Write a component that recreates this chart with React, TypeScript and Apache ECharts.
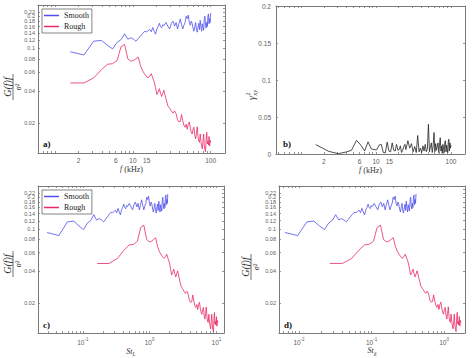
import React, { useEffect, useRef } from 'react';
import * as echarts from 'echarts';

// ---------- data ----------
const FREQ_KHZ = [
  1.56, 2.34, 3.13, 3.91, 4.69, 5.47, 6.25, 7.03, 7.81, 8.59, 9.38, 10.16, 10.94, 11.72, 12.5, 13.28, 14.06, 14.84, 15.63,
  16.41, 17.19, 17.97, 18.75, 19.53, 20.31, 21.09, 21.88, 22.66, 23.44, 24.22, 25.0,
  26.56, 28.13, 29.69, 31.25, 32.81, 34.38, 35.94, 37.5, 39.06, 40.63, 42.19, 43.75, 45.31, 46.88, 48.44, 50.0,
  51.56, 53.13, 54.69, 56.25, 57.81, 59.38, 60.94, 62.5, 64.06, 65.63, 67.19, 68.75, 70.31, 71.88, 73.44, 75.0,
  76.56, 78.13, 79.69, 81.25, 82.81, 84.38, 85.94, 87.5, 89.06, 90.63, 92.19, 93.75, 95.31, 96.88, 98.44, 100,
];

const SMOOTH = [
  0.093, 0.087, 0.117, 0.119, 0.107, 0.099, 0.114, 0.121, 0.137, 0.122, 0.126, 0.122, 0.117, 0.124, 0.131, 0.138, 0.144, 0.143, 0.146,
  0.151, 0.143, 0.157, 0.145, 0.136, 0.152, 0.16, 0.172, 0.16, 0.156, 0.167, 0.163,
  0.175, 0.162, 0.152, 0.172, 0.18, 0.162, 0.175, 0.152, 0.17, 0.189, 0.168, 0.152, 0.165, 0.175, 0.2, 0.19,
  0.205, 0.175, 0.165, 0.18, 0.172, 0.155, 0.145, 0.16, 0.175, 0.15, 0.142, 0.158, 0.172, 0.15, 0.183, 0.16,
  0.145, 0.17, 0.158, 0.148, 0.19, 0.2, 0.165, 0.155, 0.175, 0.16, 0.2, 0.21, 0.17, 0.19, 0.175, 0.215,
];

const ROUGH = [
  0.0475, 0.0475, 0.053, 0.063, 0.071, 0.072, 0.077, 0.104, 0.109, 0.08, 0.076, 0.077, 0.08, 0.083, 0.069, 0.062, 0.058, 0.055, 0.053,
  0.055, 0.058, 0.053, 0.049, 0.043, 0.037, 0.039, 0.042, 0.038, 0.0355, 0.038, 0.0405,
  0.034, 0.029, 0.0275, 0.026, 0.0248, 0.026, 0.0245, 0.0215, 0.0205, 0.0207, 0.024, 0.021, 0.019, 0.0183, 0.0195, 0.0175,
  0.0195, 0.0205, 0.018, 0.0164, 0.0158, 0.0175, 0.0183, 0.0155, 0.0142, 0.016, 0.0185, 0.015, 0.0135, 0.0132, 0.0158, 0.0135,
  0.0122, 0.0115, 0.0135, 0.0158, 0.0125, 0.0113, 0.0108, 0.0142, 0.0164, 0.0128, 0.0135, 0.0125, 0.015, 0.0122, 0.0138, 0.0132,
];

const COHERENCE = [
  0.0127, 0.0035, 0.0005, 0.0025, 0.005, 0.0185, 0.012, 0.004, 0.0165, 0.007, 0.006, 0.0055, 0.012, 0.013, 0.002, 0.0015, 0.016, 0.004, 0.003,
  0.015, 0.005, 0.004, 0.013, 0.005, 0.006, 0.011, 0.002, 0.005, 0.01, 0.013, 0.006,
  0.018, 0.008, 0.014, 0.003, 0.01, 0.002, 0.025, 0.003, 0.008, 0.002, 0.011, 0.004, 0.013, 0.003, 0.007, 0.04,
  0.003, 0.009, 0.015, 0.002, 0.011, 0.029, 0.003, 0.014, 0.005, 0.01, 0.015, 0.002, 0.012, 0.022, 0.004, 0.011,
  0.001, 0.013, 0.006, 0.002, 0.016, 0.018, 0.003, 0.012, 0.006, 0.002, 0.017, 0.02, 0.004, 0.015, 0.008, 0.012,
];

// Strouhal number per kHz (unit conversion used in panels c and d)
const ST_L_PER_KHZ_SMOOTH = 0.0187;
const ST_L_PER_KHZ_ROUGH = 0.105;
const ST_D_PER_KHZ_SMOOTH = 0.0041;
const ST_D_PER_KHZ_ROUGH = 0.017;

// ticks
const PSD_TICKS = [0.02, 0.04, 0.06, 0.08, 0.1, 0.12, 0.14, 0.16, 0.18, 0.2, 0.22, 0.24];
const F_LABELS = [2, 6, 10, 15, 100];
const F_MINOR = [0.5, 0.6, 0.7, 0.8, 0.9, 1, 2, 3, 4, 5, 6, 7, 8, 9, 10, 20, 30, 40, 50, 60, 70, 80, 90, 100];
const STL_LABELS = [0.1, 1, 10];
const STL_MINOR = [0.03, 0.04, 0.05, 0.06, 0.07, 0.08, 0.09, 0.1, 0.2, 0.3, 0.4, 0.5, 0.6, 0.7, 0.8, 0.9, 1, 2, 3, 4, 5, 6, 7, 8, 9, 10];
const STD_LABELS = [0.01, 0.1, 1];
const STD_MINOR = [0.006, 0.007, 0.008, 0.009, 0.01, 0.02, 0.03, 0.04, 0.05, 0.06, 0.07, 0.08, 0.09, 0.1, 0.2, 0.3, 0.4, 0.5, 0.6, 0.7, 0.8, 0.9, 1];
const COH_LABEL_STEP = 0.05;

// ---------- styling ----------
const SANS = 'Liberation Sans, Arial, sans-serif';
const SERIF = 'Liberation Serif, Times New Roman, serif';
const AXIS_COLOR = '#7a7a7a';
const LABEL_COLOR = '#606060';
const C_SMOOTH = '#5050ec';
const C_ROUGH = '#ea2a62';
const C_COH = '#222';

const pairs = (xs: number[], ys: number[], k = 1) => xs.map((x, i) => [x * k, ys[i]]);

const fmtPlain = (v: number) => String(parseFloat(Number(v).toPrecision(3)));
const fmtPow = (v: number) => `{b|10}{s|${Math.round(Math.log10(v))}}`;
const powRich = {
  b: { fontSize: 6.5, fontFamily: SANS, color: LABEL_COLOR, lineHeight: 9, verticalAlign: 'bottom' },
  s: { fontSize: 4.5, fontFamily: SANS, color: LABEL_COLOR, lineHeight: 5, verticalAlign: 'top' },
};

function xAxes(grid: number, min: number, max: number, labels: number[], minor: number[], name: string, nameRich: any, pow: boolean, nameGap: number) {
  const common = {
    type: 'log', logBase: 10, gridIndex: grid, min, max,
    splitLine: { show: false },
    axisLine: { show: true, onZero: false, lineStyle: { color: AXIS_COLOR, width: 1 } },
    axisTick: { show: true, inside: true, length: 2, customValues: minor, lineStyle: { color: AXIS_COLOR, width: 0.8 } },
  };
  return [
    {
      ...common,
      position: 'bottom',
      axisLabel: {
        show: true, customValues: labels, fontSize: 6.5, fontFamily: SANS, color: LABEL_COLOR, margin: 4,
        formatter: pow ? fmtPow : fmtPlain, rich: pow ? powRich : undefined,
      },
      name, nameLocation: 'middle', nameGap,
      nameTextStyle: { fontFamily: SERIF, fontSize: 8, color: '#333', rich: nameRich },
    },
    { ...common, position: 'top', axisLabel: { show: false } },
  ];
}

function yPsdAxes(grid: number) {
  const common = {
    type: 'log', logBase: 10, gridIndex: grid, min: 0.0105, max: 0.255,
    splitLine: { show: false },
    axisLine: { show: true, onZero: false, lineStyle: { color: AXIS_COLOR, width: 1 } },
    axisTick: { show: true, inside: true, length: 2, customValues: PSD_TICKS, lineStyle: { color: AXIS_COLOR, width: 0.8 } },
  };
  return [
    {
      ...common, position: 'left',
      axisLabel: { show: true, customValues: PSD_TICKS, fontSize: 5.5, fontFamily: SANS, color: LABEL_COLOR, margin: 3, formatter: fmtPlain },
    },
    { ...common, position: 'right', axisLabel: { show: false } },
  ];
}

function yCohAxes(grid: number) {
  const common = {
    type: 'value', gridIndex: grid, min: 0, max: 0.2, interval: COH_LABEL_STEP,
    splitLine: { show: false },
    axisLine: { show: true, onZero: false, lineStyle: { color: AXIS_COLOR, width: 1 } },
    axisTick: { show: true, inside: true, length: 2, lineStyle: { color: AXIS_COLOR, width: 0.8 } },
  };
  return [
    { ...common, position: 'left', axisLabel: { show: true, fontSize: 6.5, fontFamily: SANS, color: LABEL_COLOR, margin: 5 } },
    { ...common, position: 'right', axisLabel: { show: false } },
  ];
}

const italicRich = {
  i: { fontFamily: SERIF, fontStyle: 'italic', fontSize: 8, color: '#333', lineHeight: 10, verticalAlign: 'top' },
  s: { fontFamily: SERIF, fontStyle: 'italic', fontSize: 5.5, color: '#333', lineHeight: 6, verticalAlign: 'bottom' },
};

function line(name: string, data: number[][], color: string, xi: number, yi: number) {
  return {
    type: 'line', name, data, xAxisIndex: xi, yAxisIndex: yi,
    showSymbol: false, symbol: 'none', clip: true,
    lineStyle: { color, width: 0.8 }, itemStyle: { color },
  };
}

function fractionLabel(x: number, y: number) {
  return {
    type: 'group', x, y, rotation: Math.PI / 2, silent: true,
    children: [
      { type: 'text', x: 0, y: -1, style: { text: 'G(f)f', fontFamily: SERIF, fontStyle: 'italic', fontSize: 10, fill: '#333', align: 'center', verticalAlign: 'bottom' } },
      { type: 'line', shape: { x1: -13, y1: 0, x2: 13, y2: 0 }, style: { stroke: '#333', lineWidth: 0.7 } },
      { type: 'text', x: 0, y: 1, style: { text: 'σ²', fontFamily: SERIF, fontStyle: 'italic', fontSize: 8, fill: '#333', align: 'center', verticalAlign: 'top' } },
    ],
  };
}

function panelTitle(text: string, left: number, top: number) {
  return { text, left, top, padding: 0, textStyle: { fontFamily: SERIF, fontWeight: 'bold', fontSize: 9, color: '#111' } };
}

function legend(top: number) {
  return {
    left: 42, top, orient: 'vertical', selectedMode: false,
    data: ['Smooth', 'Rough'],
    icon: 'rect',
    itemWidth: 15, itemHeight: 1.5, itemGap: 2,
    padding: [2, 3, 2, 2],
    borderColor: '#333', borderWidth: 0.6, backgroundColor: '#fff',
    textStyle: { fontFamily: SERIF, fontSize: 8, color: '#222', lineHeight: 9 },
  };
}

function buildOption() {
  const grids = [
    { left: 38, top: 5, width: 187, height: 148 },
    { left: 276, top: 6, width: 189, height: 148 },
    { left: 38, top: 186, width: 186, height: 148 },
    { left: 279, top: 186, width: 186, height: 147 },
  ];
  const fName = '{i|f} (kHz)';
  const xs = [
    ...xAxes(0, 0.6, 153, F_LABELS, F_MINOR, fName, italicRich, false, 8),
    ...xAxes(1, 0.46, 154, F_LABELS, F_MINOR, fName, italicRich, false, 8),
    ...xAxes(2, 0.0213, 13, STL_LABELS, STL_MINOR, '{i|St}{s|L}', italicRich, true, 9),
    ...xAxes(3, 0.0053, 1.94, STD_LABELS, STD_MINOR, '{i|St}{s|δ}', italicRich, true, 9),
  ];
  const ys = [...yPsdAxes(0), ...yCohAxes(1), ...yPsdAxes(2), ...yPsdAxes(3)];

  const series = [
    line('Smooth', pairs(FREQ_KHZ, SMOOTH), C_SMOOTH, 0, 0),
    line('Rough', pairs(FREQ_KHZ, ROUGH), C_ROUGH, 0, 0),
    line('Coherence', pairs(FREQ_KHZ, COHERENCE), C_COH, 2, 2),
    line('Smooth', pairs(FREQ_KHZ, SMOOTH, ST_L_PER_KHZ_SMOOTH), C_SMOOTH, 4, 4),
    line('Rough', pairs(FREQ_KHZ, ROUGH, ST_L_PER_KHZ_ROUGH), C_ROUGH, 4, 4),
    line('Smooth', pairs(FREQ_KHZ, SMOOTH, ST_D_PER_KHZ_SMOOTH), C_SMOOTH, 6, 6),
    line('Rough', pairs(FREQ_KHZ, ROUGH, ST_D_PER_KHZ_ROUGH), C_ROUGH, 6, 6),
  ];

  return {
    animation: false,
    backgroundColor: '#fff',
    grid: grids,
    xAxis: xs,
    yAxis: ys,
    series,
    legend: [legend(9), legend(190)],
    title: [panelTitle('a)', 43, 139), panelTitle('b)', 283, 139), panelTitle('c)', 43, 320), panelTitle('d)', 284, 320)],
    graphic: [
      fractionLabel(13, 87),
      fractionLabel(13, 264),
      fractionLabel(251, 267),
      {
        type: 'group', x: 251, y: 96, rotation: Math.PI / 2, silent: true,
        children: [
          { type: 'text', x: 0, y: 0, style: { text: 'γ', fontFamily: SERIF, fontStyle: 'italic', fontSize: 10, fill: '#333', align: 'right', verticalAlign: 'middle' } },
          { type: 'text', x: 0.5, y: -3, style: { text: '2', fontFamily: SERIF, fontSize: 6, fill: '#333', align: 'left', verticalAlign: 'middle' } },
          { type: 'text', x: 0.5, y: 4, style: { text: 'xy', fontFamily: SERIF, fontStyle: 'italic', fontSize: 6, fill: '#333', align: 'left', verticalAlign: 'middle' } },
        ],
      },
    ],
  };
}

export default function App() {
  const ref = useRef<HTMLDivElement>(null);
  useEffect(() => {
    if (!ref.current) return;
    const chart = echarts.init(ref.current, undefined, { renderer: 'svg' });
    chart.setOption(buildOption() as any);
    return () => chart.dispose();
  }, []);
  return (
    <div
      ref={ref}
      style={{ position: 'fixed', left: 0, top: 0, width: 474, height: 358, background: '#fff' }}
    />
  );
}
